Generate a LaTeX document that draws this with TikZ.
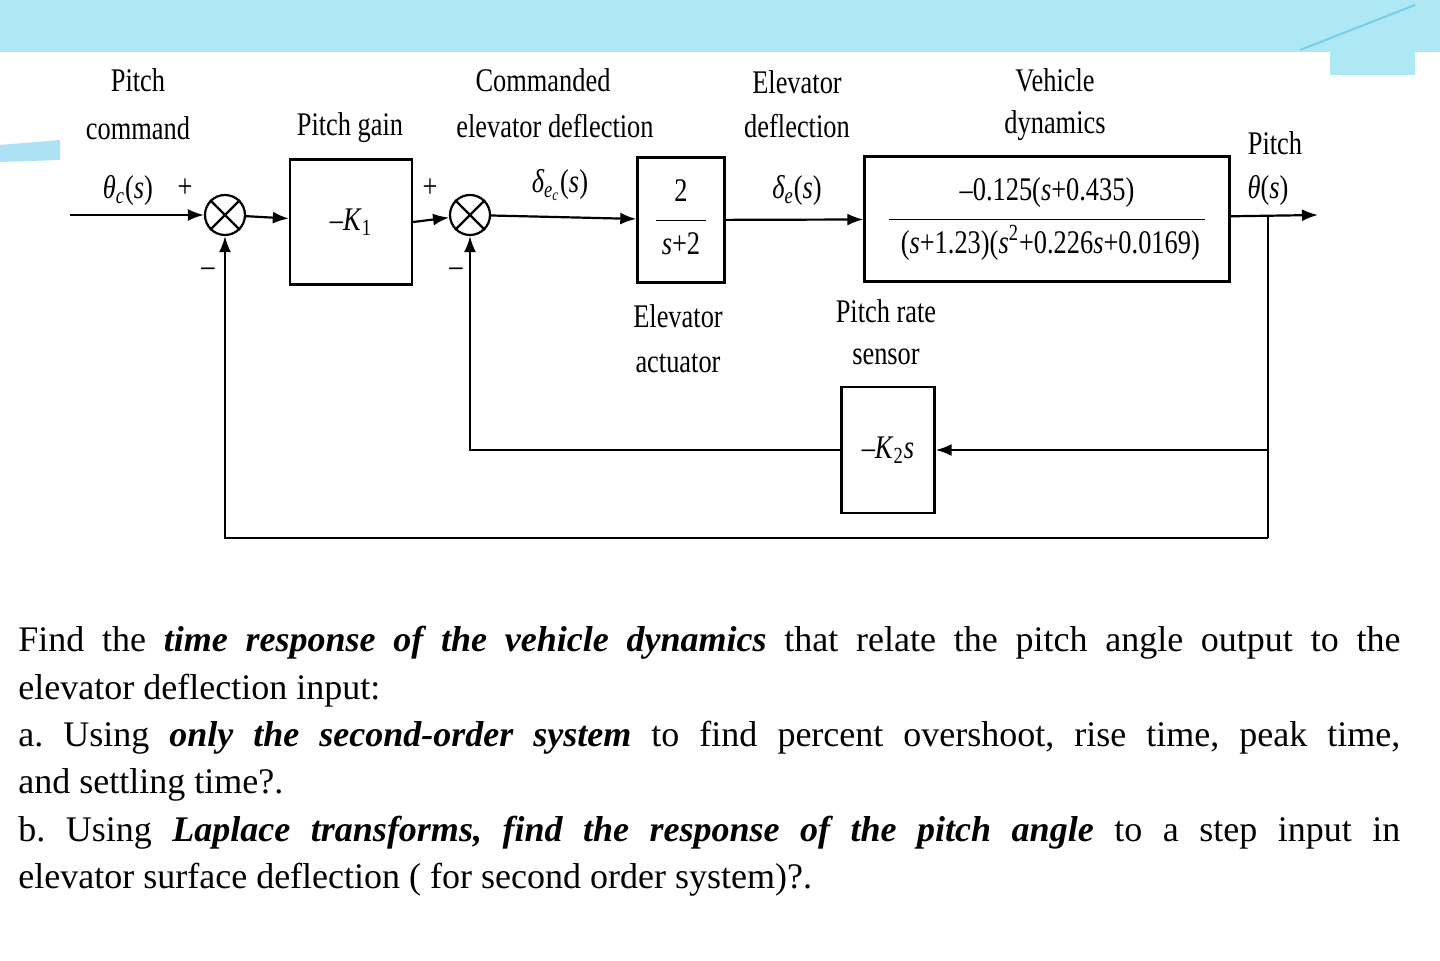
\documentclass[tikz,border=0pt]{standalone}
\usepackage{fontspec}
\setmainfont{Liberation Serif}
\newfontfamily\cond[FakeStretch=0.8]{Liberation Serif}
\usetikzlibrary{arrows.meta}
\definecolor{ban}{RGB}{175,232,245}
\definecolor{ban2}{RGB}{120,205,235}
\newcommand{\ifr}[2]{\begin{tabular}{@{\,}c@{\,}}#1\\[3pt]\hline\rule{0pt}{17pt}#2\end{tabular}}
\frenchspacing
\begin{document}
\begin{tikzpicture}[x=0.5pt,y=-0.5pt,
  blk/.style={draw,line width=1.2pt},
  ln/.style={line width=1.1pt},
  arr/.style={ln,-{Latex[length=8pt,width=6pt]}},
  sumj/.style={draw,circle,line width=1.1pt,minimum size=20pt,inner sep=0pt},
  lab/.style={font=\cond\fontsize{16.5}{20}\selectfont,align=center,inner sep=0pt}]
\useasboundingbox (0,0) rectangle (1440,961);
% banner
\fill[ban] (0,0) rectangle (1440,52);
\fill[ban] (1330,52) rectangle (1415,75);
\fill[ban2!60] (0,145) -- (60,140) -- (60,160) -- (0,162) -- cycle;
\draw[ban2,line width=1pt] (1300,50) -- (1415,5);
% nodes
\node[sumj] (s1) at (225,215) {};
\draw[ln] (s1.45) -- (s1.225) (s1.135) -- (s1.315);
\node[sumj] (s2) at (470,215) {};
\draw[ln] (s2.45) -- (s2.225) (s2.135) -- (s2.315);
\node[blk,minimum width=61pt,minimum height=62.5pt] (g) at (351,222) {};
\node[lab] at (g) {–\textit{K}\textsubscript{1}};
\node[blk,minimum width=43.5pt,minimum height=62.5pt] (a) at (681,220) {};
\node[lab] at (a) {\ifr{2}{\textit{s}+2}};
\node[blk,minimum width=182.5pt,minimum height=62.5pt] (v) at (1047,219) {};
\node[lab] at (v) {\ifr{–0.125(\textit{s}+0.435)}{\ (\textit{s}+1.23)(\textit{s}\textsuperscript{2}+0.226\textit{s}+0.0169)\ }};
\node[blk,minimum width=46.5pt,minimum height=63pt] (k) at (888,450) {};
\node[lab] at (k) {–\textit{K}\textsubscript{2}\textit{s}};
\coordinate (in) at (70,215);
\coordinate (out) at (1318,215);
\coordinate (tap) at (1268,215);
\coordinate (tap2) at (1268,450);
\coordinate (bot) at (1268,538);
% connectors
\draw[arr] (in) -- (s1);
\draw[arr] (s1) -- (g);
\draw[arr] (g.east) -- (s2);
\draw[arr] (s2) -- (a);
\draw[arr] (a) -- (v);
\draw[arr] (v) -- (out);
\draw[ln] (tap) -- (bot);
\draw[arr] (bot) -| (s1.south);
\draw[arr] (tap2) -- (k.east);
\draw[arr] (k.west) -| (s2.south);
% labels
\node[lab] at (138,80) {Pitch};
\node[lab] at (138,128) {command};
\node[lab] at (128,190) {\textit{θ\textsubscript{c}}(\textit{s})};
\node[lab] at (185,188) {+};
\node[lab] at (208,272) {–};
\node[lab] at (430,188) {+};
\node[lab] at (456,272) {–};
\node[lab] at (350,128) {Pitch gain};
\node[lab] at (543,80) {Commanded};
\node[lab] at (555,126) {elevator deflection};
\node[lab] at (560,185) {\textit{δ\textsubscript{e\textsubscript{c}}}(\textit{s})};
\node[lab] at (797,82) {Elevator};
\node[lab] at (797,126) {deflection};
\node[lab] at (797,190) {\textit{δ\textsubscript{e}}(\textit{s})};
\node[lab] at (1055,80) {Vehicle};
\node[lab] at (1055,126) {dynamics};
\node[lab] at (1275,143) {Pitch};
\node[lab] at (1268,190) {\textit{θ}(\textit{s})};
\node[lab] at (678,316) {Elevator};
\node[lab] at (678,363) {actuator};
\node[lab] at (886,311) {Pitch rate};
\node[lab] at (886,357) {sensor};
% paragraph
\node[anchor=north west,inner sep=0pt,text width=691pt,align=justify,
  font=\fontsize{18}{23.7}\selectfont] (p) at (18,626) {Find the \textbf{\textit{time response of the vehicle dynamics}} that relate the pitch angle output to the\linebreak elevator deflection input:\newline
a. Using \textbf{\textit{only the second-order system}} to find percent overshoot, rise time, peak time,\linebreak and settling time?.\newline
b. Using \textbf{\textit{Laplace transforms, find the response of the pitch angle}} to a step input in\linebreak elevator surface deflection ( for second order system)?.};
\end{tikzpicture}
\end{document}
